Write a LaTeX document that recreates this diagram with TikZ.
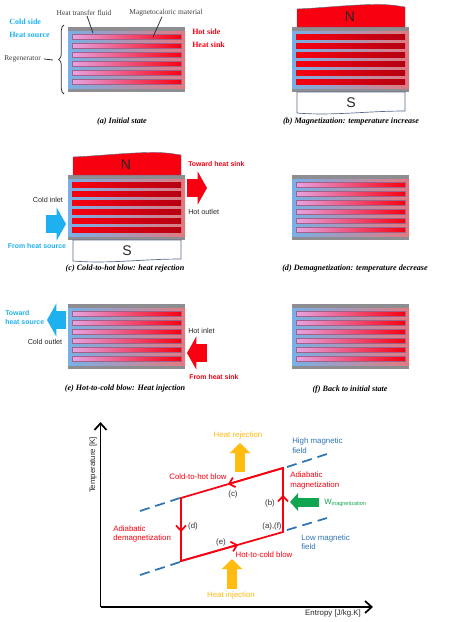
\documentclass[tikz,border=0pt]{standalone}
\usepackage{fontspec}
\setmainfont{Liberation Serif}
\setsansfont{Liberation Sans}
\usepackage{xcolor}
\usepackage{tikz}
\usetikzlibrary{arrows.meta,decorations.pathreplacing,calc}
\definecolor{coldblue}{HTML}{1FB0F0}
\definecolor{hotred}{HTML}{F80010}
\definecolor{heatorange}{HTML}{FFBB10}
\definecolor{workgreen}{HTML}{10A550}
\definecolor{fieldblue}{HTML}{2E74B5}
\definecolor{casegray}{HTML}{8E8E92}
\definecolor{magnetedge}{HTML}{56688A}
\definecolor{fluidcold}{HTML}{78B0E8}
\definecolor{fluidmid}{HTML}{C4AACD}
\definecolor{fluidhot}{HTML}{E27A80}
\definecolor{barcold}{HTML}{E6A4E4}
\definecolor{barmid}{HTML}{E68CC4}
\definecolor{bardark}{HTML}{B40012}
\tikzset{
  caption/.style={font=\fontsize{6.1}{7}\selectfont\bfseries\itshape, inner sep=0pt},
  smallserif/.style={font=\fontsize{5.6}{7}\selectfont, inner sep=0pt, text=black!75},
  sidelabel/.style={font=\fontsize{6}{10}\selectfont\bfseries, inner sep=0pt, align=left},
  flowlabel/.style={font=\sffamily\fontsize{5.4}{7}\selectfont, inner sep=0pt, text=black!85},
  flowbold/.style={font=\sffamily\bfseries\fontsize{5.2}{7}\selectfont, inner sep=0pt},
  graphlabel/.style={font=\sffamily\fontsize{5.9}{7.2}\selectfont, inner sep=0pt, align=left},
  polelabel/.style={font=\sffamily\fontsize{10.5}{12}\selectfont, inner sep=0pt, text=black!85},
  coolbar/.style={left color=barcold, middle color=barmid, right color=hotred, draw=black!30!barmid, line width=0.25pt},
  hotbar/.style={left color=hotred, right color=bardark, draw=none},
  bigflow/.style={line width=13pt, -{Triangle[length=7pt,width=24.5pt]}},
  heatflow/.style={line width=7.5pt, -{Triangle[length=7.5pt,width=15pt]}},
  fieldline/.style={fieldblue, line width=1.3pt, dash pattern=on 7.5pt off 4.5pt},
  cycleline/.style={hotred, line width=1.3pt},
  cycletip/.style={hotred, line width=1.3pt, -{Straight Barb[length=4pt,width=7.5pt]}},
  axisline/.style={black, line width=1.3pt, -{Straight Barb[length=5pt,width=9pt]}},
  leader/.style={black!80, line width=0.6pt}
}
\newcommand{\regenbox}[3]{
  \begin{scope}[shift={(#1,#2)}]
    \fill[casegray] (0,0) rectangle (117,65);
    \shade[left color=fluidcold, middle color=fluidmid, right color=fluidhot] (0,4) rectangle (117,61);
    \foreach \barY in {7.2,16.2,25.2,34.2,43.2,52.5}
      \path[#3] (4,\barY) rectangle (113,\barY+5);
  \end{scope}
}
\newcommand{\magnetpair}[2]{
  \begin{scope}[shift={(#1,#2)}]
    \path[fill=hotred, draw=magnetedge, line width=0.3pt] (5,0) -- (5,-18) .. controls (30,-19) and (65,-23) .. (90,-22.5) .. controls (100,-22) .. (113,-20) -- (113,0) -- cycle;
    \path[fill=white, draw=magnetedge, line width=0.5pt] (5,65) -- (5,86) .. controls (40,89) and (75,84) .. (113,84) -- (113,65) -- cycle;
    \node[polelabel] (north) at (58,-10) {N};
    \node[polelabel] (south) at (59,76) {S};
  \end{scope}
}
\begin{document}
\begin{tikzpicture}[x=0.75pt,y=-0.75pt]
  \useasboundingbox (0,0) rectangle (474,622);

  \regenbox{68}{27}{coolbar}
  \regenbox{292}{27}{hotbar}
  \magnetpair{292}{27}
  \regenbox{68}{175}{hotbar}
  \magnetpair{68}{175}
  \regenbox{292}{175}{coolbar}
  \regenbox{68}{304}{coolbar}
  \regenbox{292}{304}{coolbar}

  \node[caption] (capa) at (122,122) {(a) Initial state};
  \node[caption] (capb) at (351,122) {(b) Magnetization: temperature increase};
  \node[caption] (capc) at (125,269) {(c) Cold-to-hot blow: heat rejection};
  \node[caption] (capd) at (355,269) {(d) Demagnetization: temperature decrease};
  \node[caption] (cape) at (125,389) {(e) Hot-to-cold blow: Heat injection};
  \node[caption] (capf) at (350,389) {(f) Back to initial state};

  \node[smallserif] (fluid) at (84,13) {Heat transfer fluid};
  \node[smallserif] (material) at (166,13) {Magnetocaloric material};
  \coordinate (fluidend) at (93,33);
  \coordinate (materialend) at (153,37);
  \draw[leader] (fluid.south) ++(3,0) -- (fluidend);
  \draw[leader] (material.south) ++(-4,0) -- (materialend);
  \node[sidelabel, text=coldblue, anchor=west] (coldside) at (9,28) {Cold side\\Heat source};
  \node[sidelabel, text=hotred, anchor=west] (hotside) at (192,38) {Hot side\\Heat sink};
  \node[smallserif, anchor=west] (regen) at (4,59) {Regenerator};
  \coordinate (bracelow) at (64,94);
  \coordinate (bracehigh) at (64,25);
  \coordinate (bracetip) at (53,60);
  \draw[black!80, line width=0.6pt, decorate, decoration={brace, amplitude=4pt}] (bracelow) -- (bracehigh);
  \draw[leader] (regen.east) ++(3,0) -- (bracetip);

  \node[flowbold, text=hotred, anchor=west] (towardsink) at (188,164) {Toward heat sink};
  \coordinate (hotoutA) at (187,188);
  \coordinate (hotoutB) at (207,188);
  \draw[bigflow, hotred] (hotoutA) -- (hotoutB);
  \node[flowlabel, anchor=west] (hotout) at (188,212) {Hot outlet};
  \node[flowlabel] (coldin) at (48,200) {Cold inlet};
  \coordinate (coldinA) at (46,224);
  \coordinate (coldinB) at (66,224);
  \draw[bigflow, coldblue] (coldinA) -- (coldinB);
  \node[flowbold, text=coldblue] (fromsource) at (37,246) {From heat source};

  \node[flowbold, text=coldblue, anchor=west, align=left] (towardsource) at (5,317.5) {Toward\\heat source};
  \coordinate (coldoutA) at (66,320);
  \coordinate (coldoutB) at (47,320);
  \draw[bigflow, coldblue] (coldoutA) -- (coldoutB);
  \node[flowlabel] (coldout) at (45,342) {Cold outlet};
  \node[flowlabel, anchor=west] (hotin) at (188,331) {Hot inlet};
  \coordinate (hotinA) at (207,353);
  \coordinate (hotinB) at (187,353);
  \draw[bigflow, hotred] (hotinA) -- (hotinB);
  \node[flowbold, text=hotred, anchor=west] (fromsink) at (189,377) {From heat sink};

  \coordinate (origin) at (100.5,607);
  \coordinate (tempend) at (100.5,422);
  \coordinate (entropyend) at (373,607);
  \draw[axisline] (origin) -- (tempend);
  \draw[axisline] (origin) -- (entropyend);
  \node[graphlabel, rotate=90, text=black!85] (templabel) at (93,465) {Temperature [K]};
  \node[graphlabel, text=black!85] (entropylabel) at (333,613) {Entropy [J/kg.K]};

  \coordinate (hiA) at (140,511);
  \coordinate (hiB) at (180,498);
  \coordinate (hiC) at (287,467);
  \coordinate (hiD) at (327,454);
  \coordinate (loA) at (140,575);
  \coordinate (loB) at (180,562);
  \coordinate (loC) at (287,530);
  \coordinate (loD) at (327,518);
  \draw[fieldline] (hiA) -- (hiB);
  \draw[fieldline] (hiC) -- (hiD);
  \draw[fieldline] (loA) -- (loB);
  \draw[fieldline] (loC) -- (loD);

  \coordinate (cornerA) at (283,532);
  \coordinate (cornerB) at (283,468);
  \coordinate (cornerC) at (181,498);
  \coordinate (cornerD) at (181,561);
  \draw[cycleline] (cornerA) -- (cornerB) -- (cornerC) -- (cornerD) -- cycle;
  \draw[cycletip] (cornerA) -- ($(cornerA)!.58!(cornerB)$);
  \draw[cycletip] (cornerB) -- ($(cornerB)!.54!(cornerC)$);
  \draw[cycletip] (cornerC) -- ($(cornerC)!.54!(cornerD)$);
  \draw[cycletip] (cornerD) -- ($(cornerD)!.56!(cornerA)$);

  \coordinate (rejectA) at (240,472);
  \coordinate (rejectB) at (240,443);
  \draw[heatflow, heatorange] (rejectA) -- (rejectB);
  \coordinate (injectA) at (232,589);
  \coordinate (injectB) at (232,559);
  \draw[heatflow, heatorange] (injectA) -- (injectB);
  \coordinate (workA) at (319,502);
  \coordinate (workB) at (290,502);
  \draw[workgreen, line width=6.75pt, -{Triangle[length=6pt,width=13pt]}] (workA) -- (workB);

  \node[graphlabel, text=heatorange] (rejection) at (238,435) {Heat rejection};
  \node[graphlabel, text=heatorange] (injection) at (231,595) {Heat injection};
  \node[graphlabel, text=fieldblue, anchor=west] (highfield) at (292,445.5) {High magnetic\\field};
  \node[graphlabel, text=fieldblue, anchor=west] (lowfield) at (301,542) {Low magnetic\\field};
  \node[graphlabel, text=hotred] (coldhot) at (198,477) {Cold-to-hot blow};
  \node[graphlabel, text=hotred] (hotcold) at (264,555) {Hot-to-cold blow};
  \node[graphlabel, text=hotred, anchor=west] (adiamag) at (290,480.5) {Adiabatic\\magnetization};
  \node[graphlabel, text=hotred, anchor=west] (adiademag) at (113,534) {Adiabatic\\demagnetization};
  \node[graphlabel, text=workgreen, anchor=west] (work) at (324,503) {W\textsubscript{magnetization}};
  \node[graphlabel, text=black!80] (stepc) at (233,494) {(c)};
  \node[graphlabel, text=black!80] (stepb) at (270,503) {(b)};
  \node[graphlabel, text=black!80] (stepaf) at (272,526) {(a),(f)};
  \node[graphlabel, text=black!80] (stepd) at (193,526) {(d)};
  \node[graphlabel, text=black!80] (stepe) at (221,542) {(e)};
\end{tikzpicture}
\end{document}
